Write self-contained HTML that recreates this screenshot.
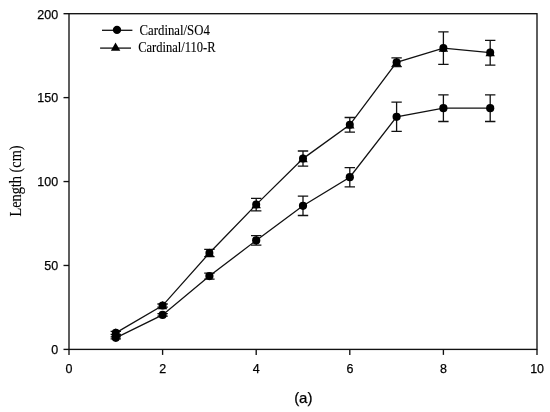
<!DOCTYPE html>
<html><head><meta charset="utf-8"><title>Length chart</title>
<style>html,body{margin:0;padding:0;background:#fff}body{width:550px;height:412px;overflow:hidden}svg{display:block}.ax{font-family:"Liberation Sans",Arial,sans-serif;font-size:13.7px;fill:#000;stroke:#000;stroke-width:0.25px}.se{font-family:"Liberation Serif","Times New Roman",serif;fill:#000;stroke:#000;stroke-width:0.12px}</style></head><body>
<svg width="550" height="412" viewBox="0 0 550 412">
<rect width="550" height="412" fill="#fff"/>
<g stroke="#111" stroke-width="1.35" fill="none">
<rect x="69.0" y="13.7" width="468.00" height="335.70"/>
<line x1="63.5" y1="349.40" x2="69.0" y2="349.40"/>
<line x1="63.5" y1="265.47" x2="69.0" y2="265.47"/>
<line x1="63.5" y1="181.55" x2="69.0" y2="181.55"/>
<line x1="63.5" y1="97.62" x2="69.0" y2="97.62"/>
<line x1="63.5" y1="13.70" x2="69.0" y2="13.70"/>
<line x1="69.00" y1="349.4" x2="69.00" y2="354.9"/>
<line x1="162.60" y1="349.4" x2="162.60" y2="354.9"/>
<line x1="256.20" y1="349.4" x2="256.20" y2="354.9"/>
<line x1="349.80" y1="349.4" x2="349.80" y2="354.9"/>
<line x1="443.40" y1="349.4" x2="443.40" y2="354.9"/>
<line x1="537.00" y1="349.4" x2="537.00" y2="354.9"/>
</g>
<text class="ax" x="51.15" y="354.20" textLength="6.95" lengthAdjust="spacingAndGlyphs">0</text>
<text class="ax" x="44.20" y="270.27" textLength="13.90" lengthAdjust="spacingAndGlyphs">50</text>
<text class="ax" x="37.25" y="186.35" textLength="20.85" lengthAdjust="spacingAndGlyphs">100</text>
<text class="ax" x="37.25" y="102.42" textLength="20.85" lengthAdjust="spacingAndGlyphs">150</text>
<text class="ax" x="37.25" y="18.50" textLength="20.85" lengthAdjust="spacingAndGlyphs">200</text>
<text class="ax" x="65.62" y="373.4" textLength="6.95" lengthAdjust="spacingAndGlyphs">0</text>
<text class="ax" x="159.22" y="373.4" textLength="6.95" lengthAdjust="spacingAndGlyphs">2</text>
<text class="ax" x="252.82" y="373.4" textLength="6.95" lengthAdjust="spacingAndGlyphs">4</text>
<text class="ax" x="346.43" y="373.4" textLength="6.95" lengthAdjust="spacingAndGlyphs">6</text>
<text class="ax" x="440.02" y="373.4" textLength="6.95" lengthAdjust="spacingAndGlyphs">8</text>
<text class="ax" x="530.15" y="373.4" textLength="13.90" lengthAdjust="spacingAndGlyphs">10</text>
<text class="se" font-size="16" x="-35.6" y="0" textLength="71.2" lengthAdjust="spacingAndGlyphs" transform="translate(20.8 181) rotate(-90)">Length (cm)</text>
<text class="ax" style="font-size:15px" x="303.3" y="403" text-anchor="middle">(a)</text>
<g stroke="#111" stroke-width="1.3" fill="none">
<polyline points="115.80,337.80 162.60,314.90 209.40,276.10 256.20,240.40 303.00,205.80 349.80,177.20 396.60,116.80 443.40,108.20 490.20,108.20"/>
<path d="M115.80 336.80V338.80M110.60 336.80H121.00M110.60 338.80H121.00"/>
<path d="M162.60 313.70V316.10M157.40 313.70H167.80M157.40 316.10H167.80"/>
<path d="M209.40 273.10V279.10M204.20 273.10H214.60M204.20 279.10H214.60"/>
<path d="M256.20 235.70V245.10M251.00 235.70H261.40M251.00 245.10H261.40"/>
<path d="M303.00 196.10V215.50M297.80 196.10H308.20M297.80 215.50H308.20"/>
<path d="M349.80 167.60V186.80M344.60 167.60H355.00M344.60 186.80H355.00"/>
<path d="M396.60 102.20V131.40M391.40 102.20H401.80M391.40 131.40H401.80"/>
<path d="M443.40 94.90V121.50M438.20 94.90H448.60M438.20 121.50H448.60"/>
<path d="M490.20 94.90V121.50M485.00 94.90H495.40M485.00 121.50H495.40"/>
</g>
<g fill="#000" stroke="none">
<circle cx="115.80" cy="337.80" r="4.1"/>
<circle cx="162.60" cy="314.90" r="4.1"/>
<circle cx="209.40" cy="276.10" r="4.1"/>
<circle cx="256.20" cy="240.40" r="4.1"/>
<circle cx="303.00" cy="205.80" r="4.1"/>
<circle cx="349.80" cy="177.20" r="4.1"/>
<circle cx="396.60" cy="116.80" r="4.1"/>
<circle cx="443.40" cy="108.20" r="4.1"/>
<circle cx="490.20" cy="108.20" r="4.1"/>
</g>
<g stroke="#111" stroke-width="1.3" fill="none">
<polyline points="115.80,332.90 162.60,305.60 209.40,253.00 256.20,204.60 303.00,158.60 349.80,124.80 396.60,62.30 443.40,48.10 490.20,52.70"/>
<path d="M115.80 331.40V334.40M110.60 331.40H121.00M110.60 334.40H121.00"/>
<path d="M162.60 304.00V307.20M157.40 304.00H167.80M157.40 307.20H167.80"/>
<path d="M209.40 249.40V256.60M204.20 249.40H214.60M204.20 256.60H214.60"/>
<path d="M256.20 198.40V210.80M251.00 198.40H261.40M251.00 210.80H261.40"/>
<path d="M303.00 151.00V166.20M297.80 151.00H308.20M297.80 166.20H308.20"/>
<path d="M349.80 117.50V132.10M344.60 117.50H355.00M344.60 132.10H355.00"/>
<path d="M396.60 57.90V66.70M391.40 57.90H401.80M391.40 66.70H401.80"/>
<path d="M443.40 31.80V64.40M438.20 31.80H448.60M438.20 64.40H448.60"/>
<path d="M490.20 40.30V65.10M485.00 40.30H495.40M485.00 65.10H495.40"/>
</g>
<g fill="#000" stroke="none">
<circle cx="115.80" cy="332.80" r="4.0"/><path d="M115.80 328.30L120.50 336.50H111.10Z"/>
<circle cx="162.60" cy="305.50" r="4.0"/><path d="M162.60 301.00L167.30 309.20H157.90Z"/>
<circle cx="209.40" cy="252.90" r="4.0"/><path d="M209.40 248.40L214.10 256.60H204.70Z"/>
<circle cx="256.20" cy="204.50" r="4.0"/><path d="M256.20 200.00L260.90 208.20H251.50Z"/>
<circle cx="303.00" cy="158.50" r="4.0"/><path d="M303.00 154.00L307.70 162.20H298.30Z"/>
<circle cx="349.80" cy="124.70" r="4.0"/><path d="M349.80 120.20L354.50 128.40H345.10Z"/>
<circle cx="396.60" cy="62.20" r="4.0"/><path d="M396.60 57.70L401.30 65.90H391.90Z"/>
<circle cx="443.40" cy="48.00" r="4.0"/><path d="M443.40 43.50L448.10 51.70H438.70Z"/>
<circle cx="490.20" cy="52.60" r="4.0"/><path d="M490.20 48.10L494.90 56.30H485.50Z"/>
</g>
<g stroke="#111" stroke-width="1.3"><line x1="102" y1="30.3" x2="132.4" y2="30.3"/><line x1="100.1" y1="48.1" x2="131" y2="48.1"/></g>
<circle cx="117" cy="29.9" r="4.15" fill="#000"/>
<path d="M115.5 42.6L120.3 50.7H110.9Z" fill="#000"/>
<text class="se" font-size="14" x="139.6" y="34.9" textLength="70.2" lengthAdjust="spacingAndGlyphs">Cardinal/SO4</text>
<text class="se" font-size="14" x="138.2" y="52.1" textLength="77.4" lengthAdjust="spacingAndGlyphs">Cardinal/110-R</text>
</svg></body></html>
